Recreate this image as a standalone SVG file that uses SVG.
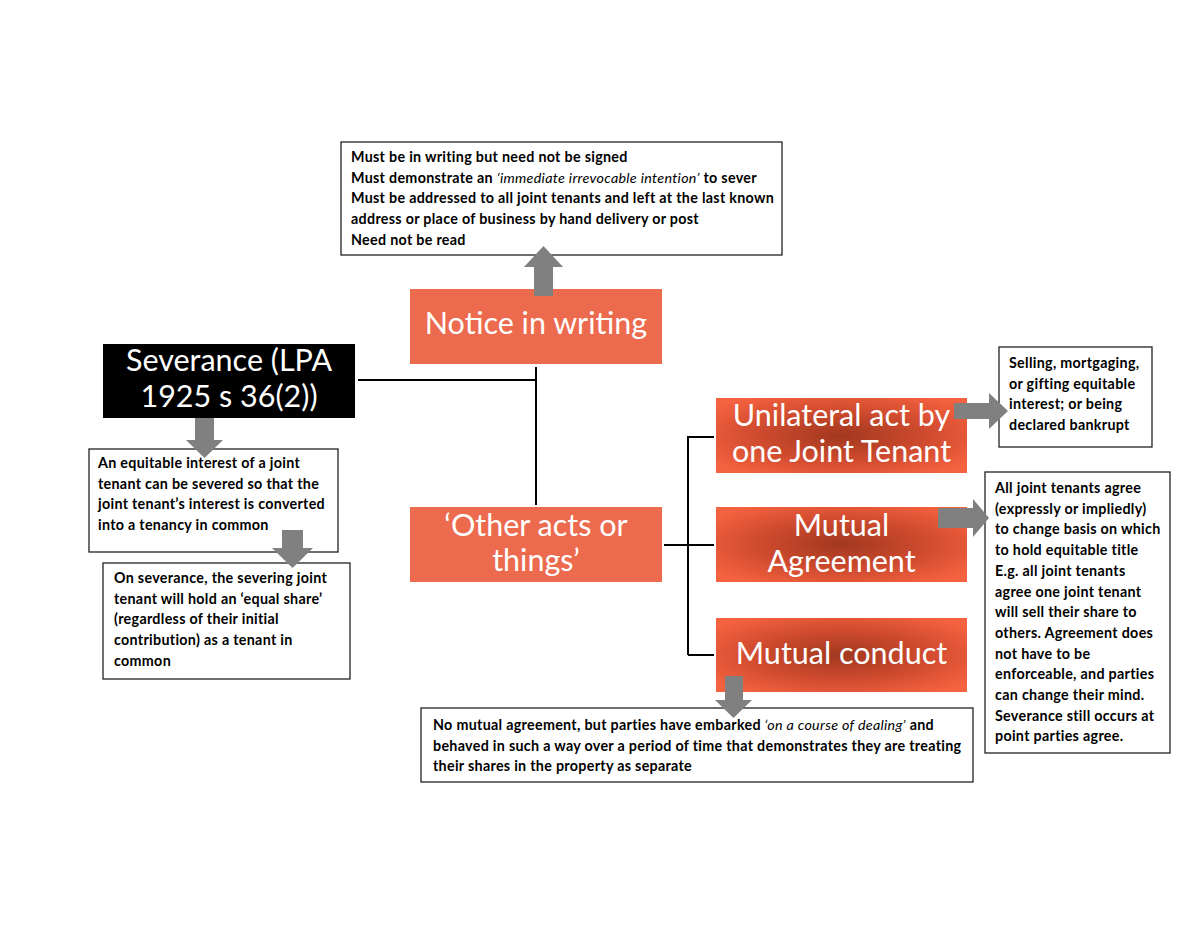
<svg xmlns="http://www.w3.org/2000/svg" width="1200" height="927" viewBox="0 0 1200 927">
<defs>
<radialGradient id="rg" cx="50%" cy="50%" r="62%">
<stop offset="0" stop-color="#A1381E"/>
<stop offset="0.55" stop-color="#D04B2F"/>
<stop offset="1" stop-color="#F4623F"/>
</radialGradient>
</defs>
<style>
.t{font-family:Lato,"Open Sans",sans-serif;font-weight:bold;font-size:14.3px;letter-spacing:0.3px;fill:#000}
.i{font-style:italic;font-weight:normal}
.h{font-family:Lato,"Open Sans",sans-serif;font-size:30.5px;fill:#fff;text-anchor:middle}
.box{fill:#fff;stroke:#222;stroke-width:1.3}
.flat{fill:#EC6A4E}
.grad{fill:url(#rg)}
.ar{fill:#808080}
.cn{stroke:#000;stroke-width:2;fill:none}
</style>
<rect width="1200" height="927" fill="#fff"/>

<g id="connectors">
<path class="cn" d="M358,380 H537 M536,367 V505"/>
<path class="cn" d="M664,545 H714 M688,436 V655 M688,437 H714 M688,655 H714"/>
</g>

<g id="notice-detail">
<rect class="box" x="341" y="142" width="441" height="113"/>
<text class="t" x="351" y="162">Must be in writing but need not be signed</text>
<text class="t" x="351" y="182.7">Must demonstrate an <tspan class="i">‘immediate irrevocable intention’</tspan> to sever</text>
<text class="t" x="351" y="203.4">Must be addressed to all joint tenants and left at the last known</text>
<text class="t" x="351" y="224.1">address or place of business by hand delivery or post</text>
<text class="t" x="351" y="244.8">Need not be read</text>
</g>

<g id="notice">
<rect class="flat" x="410" y="289" width="252" height="75"/>
<text class="h" x="536" y="334">Notice in writing</text>
</g>

<g id="severance">
<rect fill="#000" x="103" y="344" width="252" height="74"/>
<text class="h" x="229" y="371">Severance (LPA</text>
<text class="h" x="229" y="407">1925 s 36(2))</text>
</g>

<g id="equitable">
<rect class="box" x="89" y="449" width="249" height="103"/>
<text class="t" x="98" y="468">An equitable interest of a joint</text>
<text class="t" x="98" y="488.7">tenant can be severed so that the</text>
<text class="t" x="98" y="509.4">joint tenant’s interest is converted</text>
<text class="t" x="98" y="530.1">into a tenancy in common</text>
</g>

<g id="equal-share">
<rect class="box" x="103" y="563" width="247" height="116"/>
<text class="t" x="114" y="583">On severance, the severing joint</text>
<text class="t" x="114" y="603.7">tenant will hold an ‘equal share’</text>
<text class="t" x="114" y="624.4">(regardless of their initial</text>
<text class="t" x="114" y="645.1">contribution) as a tenant in</text>
<text class="t" x="114" y="665.8">common</text>
</g>

<g id="other-acts">
<rect class="flat" x="410" y="507" width="252" height="75"/>
<text class="h" x="536" y="536">‘Other acts or</text>
<text class="h" x="536" y="571">things’</text>
</g>

<g id="unilateral">
<rect class="grad" x="716" y="398" width="251" height="75"/>
<text class="h" x="841.5" y="426">Unilateral act by</text>
<text class="h" x="841.5" y="462">one Joint Tenant</text>
</g>

<g id="mutual-agreement">
<rect class="grad" x="716" y="507" width="251" height="75"/>
<text class="h" x="841.5" y="536">Mutual</text>
<text class="h" x="841.5" y="572">Agreement</text>
</g>

<g id="mutual-conduct">
<rect class="grad" x="716" y="618" width="251" height="74"/>
<text class="h" x="841.5" y="664">Mutual conduct</text>
</g>

<g id="selling">
<rect class="box" x="999" y="347" width="153" height="100"/>
<text class="t" x="1009" y="368">Selling, mortgaging,</text>
<text class="t" x="1009" y="388.7">or gifting equitable</text>
<text class="t" x="1009" y="409.4">interest; or being</text>
<text class="t" x="1009" y="430.1">declared bankrupt</text>
</g>

<g id="agree">
<rect class="box" x="985" y="472" width="185" height="281"/>
<text class="t" x="995" y="493">All joint tenants agree</text>
<text class="t" x="995" y="513.7">(expressly or impliedly)</text>
<text class="t" x="995" y="534.4">to change basis on which</text>
<text class="t" x="995" y="555.1">to hold equitable title</text>
<text class="t" x="995" y="575.8">E.g. all joint tenants</text>
<text class="t" x="995" y="596.5">agree one joint tenant</text>
<text class="t" x="995" y="617.2">will sell their share to</text>
<text class="t" x="995" y="637.9">others. Agreement does</text>
<text class="t" x="995" y="658.6">not have to be</text>
<text class="t" x="995" y="679.3">enforceable, and parties</text>
<text class="t" x="995" y="700">can change their mind.</text>
<text class="t" x="995" y="720.7">Severance still occurs at</text>
<text class="t" x="995" y="741.4">point parties agree.</text>
</g>

<g id="conduct-detail">
<rect class="box" x="421" y="708" width="552" height="74"/>
<text class="t" x="433" y="730">No mutual agreement, but parties have embarked <tspan class="i">‘on a course of dealing’</tspan> and</text>
<text class="t" x="433" y="750.7">behaved in such a way over a period of time that demonstrates they are treating</text>
<text class="t" x="433" y="771.4">their shares in the property as separate</text>
</g>

<g id="arrows">
<polygon class="ar" points="534,296 534,267 524,267 543.5,246 563,267 553,267 553,296"/>
<polygon class="ar" points="195,418 214,418 214,440 223,440 204.5,458 186,440 195,440"/>
<polygon class="ar" points="282,530 303,530 303,548 313,548 292.5,568 272,548 282,548"/>
<polygon class="ar" points="954,403 989,403 989,393 1008,411 989,429 989,419 954,419"/>
<polygon class="ar" points="938,508 973,508 973,499 989,518 973,537 973,528 938,528"/>
<polygon class="ar" points="725,676 743,676 743,700 752,700 733.5,718 715,700 725,700"/>
</g>
</svg>
